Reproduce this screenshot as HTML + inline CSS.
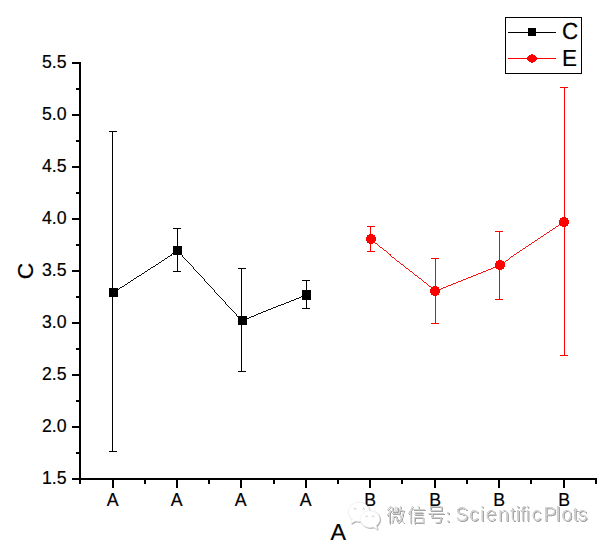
<!DOCTYPE html>
<html lang="zh"><head><meta charset="utf-8"><title>Error bar plot</title>
<style>html,body{margin:0;padding:0;background:#fff;}body{width:607px;height:546px;overflow:hidden;}svg{display:block;}text{font-family:"Liberation Sans","Noto Sans CJK SC",sans-serif;fill:#000;}.tk{font-size:17.7px;}.ti{font-size:22.8px;}.lg{font-size:23.2px;}text.tk,text.ti,text.lg{stroke:#000;stroke-width:0.2px;}.wm{font-size:20px;fill:#d2d2d2;}</style></head><body>
<svg width="607" height="546" viewBox="0 0 607 546">
<rect x="0" y="0" width="607" height="546" fill="#fff"/>
<g shape-rendering="crispEdges" fill="#000">
<rect x="79" y="62" width="2" height="422"/>
<rect x="72" y="478" width="525" height="2"/>
<rect x="72" y="62" width="7" height="2"/>
<rect x="72" y="114" width="7" height="2"/>
<rect x="72" y="166" width="7" height="2"/>
<rect x="72" y="218" width="7" height="2"/>
<rect x="72" y="270" width="7" height="2"/>
<rect x="72" y="322" width="7" height="2"/>
<rect x="72" y="374" width="7" height="2"/>
<rect x="72" y="426" width="7" height="2"/>
<rect x="72" y="478" width="7" height="2"/>
<rect x="76" y="88" width="3" height="2"/>
<rect x="76" y="140" width="3" height="2"/>
<rect x="76" y="192" width="3" height="2"/>
<rect x="76" y="244" width="3" height="2"/>
<rect x="76" y="296" width="3" height="2"/>
<rect x="76" y="348" width="3" height="2"/>
<rect x="76" y="400" width="3" height="2"/>
<rect x="76" y="452" width="3" height="2"/>
<rect x="112" y="480" width="2" height="8"/>
<rect x="176" y="480" width="2" height="8"/>
<rect x="240" y="480" width="2" height="8"/>
<rect x="305" y="480" width="2" height="8"/>
<rect x="369" y="480" width="2" height="8"/>
<rect x="434" y="480" width="2" height="8"/>
<rect x="498" y="480" width="2" height="8"/>
<rect x="563" y="480" width="2" height="8"/>
<rect x="144" y="480" width="2" height="4"/>
<rect x="208" y="480" width="2" height="4"/>
<rect x="273" y="480" width="2" height="4"/>
<rect x="337" y="480" width="2" height="4"/>
<rect x="401" y="480" width="2" height="4"/>
<rect x="466" y="480" width="2" height="4"/>
<rect x="530" y="480" width="2" height="4"/>
<rect x="595" y="480" width="2" height="4"/>
</g>
<text class="tk" x="66.5" y="68" text-anchor="end">5.5</text>
<text class="tk" x="66.5" y="120" text-anchor="end">5.0</text>
<text class="tk" x="66.5" y="172" text-anchor="end">4.5</text>
<text class="tk" x="66.5" y="224" text-anchor="end">4.0</text>
<text class="tk" x="66.5" y="276" text-anchor="end">3.5</text>
<text class="tk" x="66.5" y="328" text-anchor="end">3.0</text>
<text class="tk" x="66.5" y="380" text-anchor="end">2.5</text>
<text class="tk" x="66.5" y="432" text-anchor="end">2.0</text>
<text class="tk" x="66.5" y="484" text-anchor="end">1.5</text>
<text class="tk" x="112.7" y="506" text-anchor="middle">A</text>
<text class="tk" x="176.7" y="506" text-anchor="middle">A</text>
<text class="tk" x="240.7" y="506" text-anchor="middle">A</text>
<text class="tk" x="305.7" y="506" text-anchor="middle">A</text>
<text class="tk" x="370.1" y="506" text-anchor="middle">B</text>
<text class="tk" x="435.1" y="506" text-anchor="middle">B</text>
<text class="tk" x="499.1" y="506" text-anchor="middle">B</text>
<text class="tk" x="564.1" y="506" text-anchor="middle">B</text>
<text class="ti" transform="translate(338.2,540) rotate(0.03)" style="font-size:23.2px" text-anchor="middle">A</text>
<text class="ti" transform="translate(32.8,270.9) rotate(-90)" text-anchor="middle">C</text>
<g shape-rendering="crispEdges" stroke="#000" stroke-width="1" fill="none">
<polyline points="112.5,292.5 177.5,250.5 241.5,320.5 306.5,295" stroke-width="0.95"/>
</g>
<g shape-rendering="crispEdges" fill="#000">
<rect x="112" y="131" width="1" height="321"/>
<rect x="109" y="131" width="8" height="1"/>
<rect x="109" y="451" width="8" height="1"/>
<rect x="177" y="228" width="1" height="44"/>
<rect x="173" y="228" width="8" height="1"/>
<rect x="173" y="271" width="8" height="1"/>
<rect x="241" y="268" width="1" height="104"/>
<rect x="238" y="268" width="8" height="1"/>
<rect x="238" y="371" width="8" height="1"/>
<rect x="306" y="280" width="1" height="29"/>
<rect x="302" y="280" width="8" height="1"/>
<rect x="302" y="308" width="8" height="1"/>
<rect x="109" y="288" width="9" height="9"/>
<rect x="173" y="246" width="9" height="9"/>
<rect x="238" y="316" width="9" height="9"/>
<rect x="302" y="290" width="9" height="10"/>
</g>
<g shape-rendering="crispEdges" stroke="#f00" stroke-width="1" fill="none">
<polyline points="370.5,240 435.5,290.7 499.5,265 564.5,221.5" stroke-width="0.95"/>
</g>
<g shape-rendering="crispEdges" fill="#f00">
<rect x="370" y="226" width="1" height="26"/>
<rect x="367" y="226" width="8" height="1"/>
<rect x="367" y="251" width="8" height="1"/>
<rect x="435" y="258" width="1" height="66"/>
<rect x="431" y="258" width="8" height="1"/>
<rect x="431" y="323" width="8" height="1"/>
<rect x="499" y="231" width="1" height="69"/>
<rect x="495" y="231" width="8" height="1"/>
<rect x="495" y="299" width="8" height="1"/>
<rect x="564" y="87" width="1" height="269"/>
<rect x="560" y="87" width="8" height="1"/>
<rect x="560" y="355" width="8" height="1"/>
</g>
<g fill="#f00" shape-rendering="crispEdges">
<circle cx="371" cy="239" r="5"/>
<circle cx="435" cy="291" r="5"/>
<circle cx="500" cy="265" r="5"/>
<circle cx="564" cy="222" r="5"/>
</g>
<g shape-rendering="crispEdges">
<rect x="505.5" y="17.5" width="76" height="56" fill="#fff" stroke="#000" stroke-width="1"/>
<rect x="508" y="32" width="48" height="1" fill="#000"/>
<rect x="528" y="28" width="8" height="8" fill="#000"/>
<rect x="508" y="58" width="48" height="1" fill="#f00"/>
</g>
<path shape-rendering="crispEdges" fill="#f00" d="M531 54h2v1h2v1h1v1h1v3h-1v1h-1v1h-2v1h-2v-1h-2v-1h-1v-1h-1v-3h1v-1h1v-1h2z"/>
<text class="lg" transform="translate(562,39) rotate(0.03) scale(0.97,1)">C</text>
<text class="lg" transform="translate(562,66) rotate(0.03) scale(0.97,1)">E</text>
<defs><filter id="sh" x="-20%" y="-20%" width="150%" height="150%"><feDropShadow dx="0.8" dy="0.8" stdDeviation="0.6" flood-color="#777" flood-opacity="0.8"/></filter></defs>
<g filter="url(#sh)" fill="#fff" stroke="#ececec" stroke-width="0.6">
<path d="M359 502.4c-5.9 0-10.6 4.2-10.6 9.5 0 3 1.5 5.6 3.9 7.4l-1.3 4.2 4.6-2.6c1.1.3 2.2.5 3.4.5 5.9 0 10.6-4.2 10.6-9.5s-4.700-9.500-10.600-9.500z"/>
<path d="M370 510.800c5.400 0 9.700 3.800 9.700 8.400 0 2.600-1.300 4.900-3.400 6.400l1 3.600-3.900-2.200c-1.100.3-2.200.5-3.400.5-5.400 0-9.700-3.800-9.700-8.400s4.300-8.300 9.700-8.300z"/>
</g>
<g fill="none" stroke="#bdbdbd" stroke-width="0.9" stroke-linecap="round"><path d="M354.3 509q1-1.600 2 0"/><path d="M362.7 509q1-1.600 2 0"/><path d="M365.700 516.400q.9-1.500 1.800 0"/><path d="M372.300 516.400q.9-1.500 1.800 0"/></g>
<defs><filter id="wm" x="-5%" y="-30%" width="110%" height="170%" color-interpolation-filters="sRGB"><feComponentTransfer in="SourceGraphic" result="thin"><feFuncA type="linear" slope="2.2" intercept="-0.9"/></feComponentTransfer><feOffset in="thin" dx="0.7" dy="0.7" result="off"/><feColorMatrix in="off" type="matrix" values="0 0 0 0 0.55  0 0 0 0 0.55  0 0 0 0 0.55  0 0 0 0.78 0" result="sh"/><feMerge><feMergeNode in="sh"/><feMergeNode in="thin"/></feMerge></filter></defs>
<g filter="url(#wm)">
<text class="wm" x="386.2 407 426.5 445.5" y="522.3" font-weight="350" style="font-size:19px">微信号:</text>
<text class="wm" x="455.2 469.1 480 485.5 497.9 509.9 515.8 519.9 525.5 531.6 543.2 555.800 561.2 572.5 577.5" y="521.3">ScientificPlots</text>
</g>
</svg></body></html>
